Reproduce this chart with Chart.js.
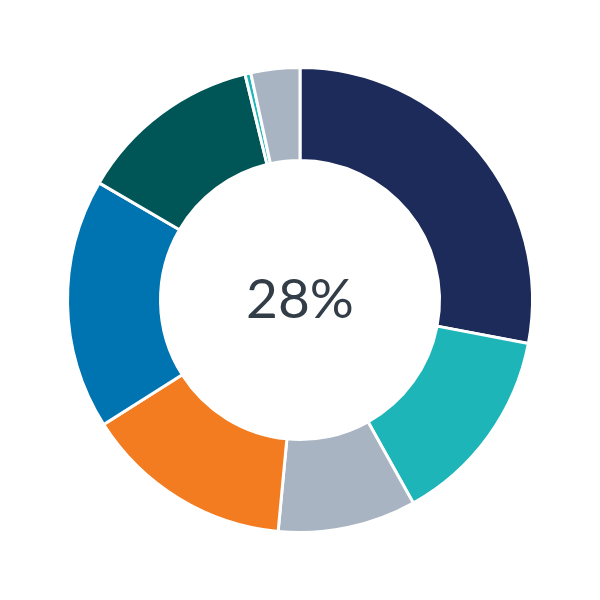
<html lang="en">
<head>
  <meta charset="UTF-8">
  <title>Donut</title>
  <script src="https://cdn.jsdelivr.net/npm/chart.js"></script>
  <style>
    body { margin: 0; background: #fff; }
    #wrap { width: 600px; height: 600px; }
  </style>
</head>
<body>
  <div id="wrap"><canvas id="viz"></canvas></div>
  <script>
    const labels = ['A', 'B', 'C', 'D', 'E', 'F', 'G', 'H']
    const values = [28, 13.9, 9.6, 14.5, 17.4, 12.8, 0.4, 3.4]
    const colors = ['#1c2b5a', '#1db5b8', '#a9b4c3', '#f47c20', '#0073b1', '#005556', '#1db5b8', '#a9b4c3']
    const centerLabel = '28%'

    const centerText = {
      id: 'centerText',
      afterDraw(chart) {
        const { ctx } = chart
        const meta = chart.getDatasetMeta(0).data[0]
        ctx.save()
        ctx.font = '400 55px Lato, "Open Sans", sans-serif'
        ctx.fillStyle = '#333d47'
        ctx.textAlign = 'center'
        ctx.textBaseline = 'middle'
        ctx.fillText(centerLabel, meta.x, meta.y)
        ctx.restore()
      }
    }

    new Chart(document.getElementById('viz'), {
      type: 'doughnut',
      data: {
        labels: labels,
        datasets: [{
          data: values,
          backgroundColor: colors,
          borderColor: '#ffffff',
          borderWidth: 3
        }]
      },
      options: {
        responsive: true,
        maintainAspectRatio: false,
        animation: false,
        cutout: '60%',
        layout: { padding: 66 },
        plugins: {
          legend: { display: false },
          tooltip: { enabled: false }
        }
      },
      plugins: [centerText]
    })
  </script>
</body>
</html>
